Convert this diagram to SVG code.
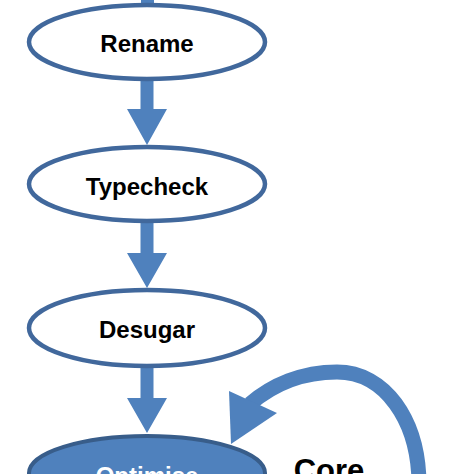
<svg xmlns="http://www.w3.org/2000/svg" width="474" height="474" viewBox="0 0 474 474">
<style>
.node { fill: #ffffff; stroke: #41689c; stroke-width: 4.5; }
.nodeFilled { fill: #4f81bd; stroke: #385d8a; stroke-width: 4; }
.lbl { font-family: "Liberation Sans", Arial, sans-serif; font-weight: bold; font-size: 24px; fill: #000000; text-anchor: middle; }
.lblW { fill: #ffffff; }
.core { font-family: "Liberation Sans", Arial, sans-serif; font-weight: bold; font-size: 31px; fill: #000000; text-anchor: middle; }
.arrow { fill: #4f81bd; stroke: none; }
.loop { fill: none; stroke: #4f81bd; stroke-width: 15; }
</style>
<rect x="0" y="0" width="474" height="474" fill="#ffffff"/>
<g id="connectors">
  <rect class="arrow" x="141" y="-2" width="13" height="6"/>
  <path class="arrow" d="M140.5 80 H153.5 V109 H167 L147 145 L127 109 H140.5 Z"/>
  <path class="arrow" d="M140.5 221 H153.5 V253 H167 L147 288 L127 253 H140.5 Z"/>
  <path class="arrow" d="M140.5 366 H153.5 V398 H167 L147 433 L127 398 H140.5 Z"/>
  <path class="loop" d="M419 482 C418 420 385 372 337 372 C302 372 272 385 250 404"/>
  <polygon class="arrow" points="229,391 277,413 231,444"/>
</g>
<g id="rename">
  <ellipse class="node" cx="147" cy="42" rx="118" ry="37"/>
  <text class="lbl" x="147" y="52">Rename</text>
</g>
<g id="typecheck">
  <ellipse class="node" cx="147" cy="184" rx="118" ry="37"/>
  <text class="lbl" x="147" y="195">Typecheck</text>
</g>
<g id="desugar">
  <ellipse class="node" cx="147" cy="328" rx="118" ry="38"/>
  <text class="lbl" x="147" y="338">Desugar</text>
</g>
<g id="optimise">
  <ellipse class="nodeFilled" cx="147" cy="473" rx="118" ry="37"/>
  <text class="lbl lblW" x="147" y="484">Optimise</text>
</g>
<g id="core-label">
  <text class="core" x="329" y="481">Core</text>
</g>
</svg>
